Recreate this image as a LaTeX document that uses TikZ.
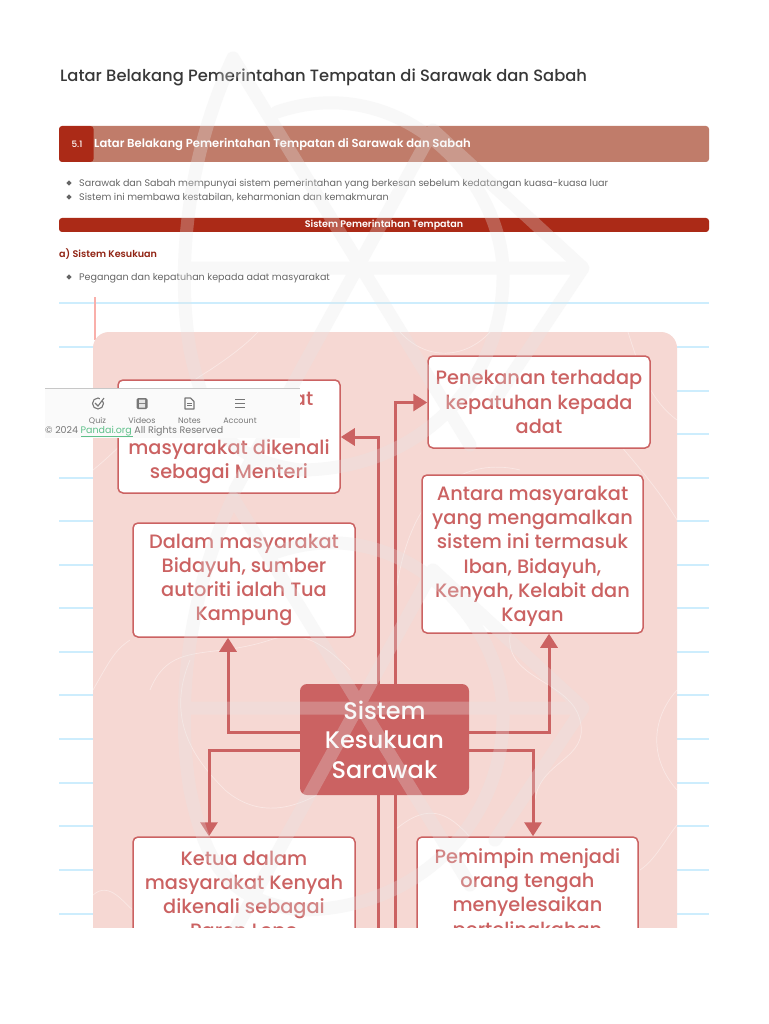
\documentclass[tikz,border=0pt]{standalone}
\usepackage{fontspec}
\usetikzlibrary{arrows.meta,shapes.geometric}
\setmainfont{Poppins}
\newfontfamily\pmed{Poppins Medium}
\newfontfamily\psemi{Poppins SemiBold}
\definecolor{darkred}{HTML}{AB2A17}
\definecolor{barred}{HTML}{C07C6A}
\definecolor{panelpink}{HTML}{F6D8D3}
\definecolor{boxred}{HTML}{CB6262}
\definecolor{ruleblue}{HTML}{CDEDFD}
\definecolor{marginred}{HTML}{F9AFAA}
\definecolor{wmgrey}{HTML}{E6E6E6}
\definecolor{bodygrey}{HTML}{666666}
\definecolor{navgrey}{HTML}{777777}
\definecolor{linkgreen}{HTML}{5FC08A}
\tikzset{
  rule/.style={ruleblue,line width=1.4pt},
  card/.style={draw=boxred,fill=white,line width=1.5pt,rounded corners=5pt,inner sep=0pt,
    align=center,text=boxred,font=\pmed\fontsize{19.35}{24.2}\selectfont},
  cardtext/.style={inner sep=0pt,align=center,text=boxred,font=\pmed\fontsize{19.35}{24.2}\selectfont},
  hub/.style={fill=boxred,rounded corners=7pt,inner sep=0pt,align=center,text=white,
    font=\pmed\fontsize{24}{29.5}\selectfont},
  link/.style={draw=boxred,line width=3pt},
  arrowlink/.style={link,-{Triangle[length=14pt,width=17pt]}},
  bodytext/.style={anchor=west,inner sep=0pt,text=bodygrey,font=\fontsize{9.55}{12}\selectfont},
  dot/.style={diamond,fill=bodygrey,inner sep=1.4pt},
  navlabel/.style={inner sep=0pt,text=navgrey,font=\fontsize{8}{10}\selectfont},
  contour/.style={white,line width=0.7pt,opacity=0.4},
}
\begin{document}
\begin{tikzpicture}[x=1pt,y=-1pt]
\useasboundingbox (0,0) rectangle (768,1024);
\fill[white] (0,0) rectangle (768,1024);

% title
\node[anchor=west,inner sep=0pt,text=black!78,font=\pmed\fontsize{16.35}{20}\selectfont] (title) at (60,77.5) {Latar Belakang Pemerintahan Tempatan di Sarawak dan Sabah};

% section header
\fill[barred,rounded corners=3pt] (88,126) rectangle (709,162);
\fill[darkred,rounded corners=3pt] (59,126) rectangle (93.5,162);
\node[inner sep=0pt,text=white,font=\pmed\fontsize{8.8}{10}\selectfont] (secno) at (77,144) {5.1};
\node[anchor=west,inner sep=0pt,text=white,font=\psemi\fontsize{11.6}{14}\selectfont] (sectitle) at (94,145) {Latar Belakang Pemerintahan Tempatan di Sarawak dan Sabah};

% bullets
\node[dot] (d1) at (69,183) {};
\node[bodytext] (b1) at (79,184) {Sarawak dan Sabah mempunyai sistem pemerintahan yang berkesan sebelum kedatangan kuasa-kuasa luar};
\node[dot] (d2) at (69,197) {};
\node[bodytext] (b2) at (79,198) {Sistem ini membawa kestabilan, keharmonian dan kemakmuran};

\fill[darkred,rounded corners=3pt] (59,218) rectangle (709,232);
\node[inner sep=0pt,text=white,font=\psemi\fontsize{9.55}{12}\selectfont] (subbar) at (384,225.5) {Sistem Pemerintahan Tempatan};
\node[anchor=west,inner sep=0pt,text=darkred!85!black,font=\psemi\fontsize{9.6}{12}\selectfont] (sub) at (59,254) {a) Sistem Kesukuan};
\node[dot] (d3) at (69,277) {};
\node[bodytext] (b3) at (79,278) {Pegangan dan kepatuhan kepada adat masyarakat};

% ruled paper
\foreach \yy in {303,347,391,434,478,521,565,608,652,695,739,783,826,870,914}
  \draw[rule] (59,\yy) -- (709,\yy);
\draw[marginred,line width=1.5pt] (95,297) -- (95,340);

% panel
\fill[panelpink,rounded corners=16pt] (93,332) rectangle (677,960);

% faint contour lines
\draw[contour] (93,470) .. controls (130,440) and (160,400) .. (210,370) .. controls (240,350) and (250,340) .. (258,332);
\draw[contour] (400,332) .. controls (430,365) and (470,355) .. (490,332);
\draw[contour] (628,332) .. controls (640,370) and (650,400) .. (677,420);
\draw[contour] (620,445) .. controls (650,480) and (665,500) .. (677,520);
\draw[contour] (395,600) .. controls (410,470) and (480,460) .. (520,470);
\draw[contour] (150,690) .. controls (170,640) and (210,660) .. (270,640) .. controls (300,630) and (320,640) .. (350,670);
\draw[contour] (190,660) .. controls (165,720) and (195,760) .. (225,790) .. controls (260,820) and (300,810) .. (340,780);
\draw[contour] (510,635) .. controls (505,680) and (570,680) .. (580,720) .. controls (590,760) and (540,760) .. (535,800);
\draw[contour] (677,690) .. controls (650,720) and (650,760) .. (677,790);
\draw[contour] (93,895) .. controls (110,880) and (125,905) .. (133,910);
\draw[contour] (395,830) .. controls (430,800) and (450,815) .. (470,837);
\draw[contour] (640,870) .. controls (655,860) and (665,840) .. (677,825);
\draw[contour] (93,690) .. controls (110,660) and (115,650) .. (130,640);

% cards
\node[card,minimum width=222pt,minimum height=113pt] (ketua) at (229,436.5) {};
\node[card,minimum width=222pt,minimum height=114pt] (bidayuh) at (244,580) {Dalam masyarakat\\Bidayuh, sumber\\autoriti ialah Tua\\Kampung};
\node[card,minimum width=222pt,minimum height=92pt] (tekan) at (539,402) {\raisebox{1pt}{Penekanan terhadap}\\[-1pt]kepatuhan kepada\\adat};
\node[card,minimum width=221pt,minimum height=158pt] (antara) at (532.5,554) {\rule{0pt}{19pt}Antara masyarakat\\yang mengamalkan\\sistem ini termasuk\\Iban, Bidayuh,\\Kenyah, Kelabit dan\\Kayan};
\node[card,minimum width=222pt,minimum height=120pt] (lepo) at (244,897) {Ketua dalam\\masyarakat Kenyah\\dikenali sebagai\\Paren Lepo};
\node[card,minimum width=221pt,minimum height=116pt] (tengah) at (527.5,895) {Pemimpin menjadi\\orang tengah\\menyelesaikan\\pertelingkahan};
\node[cardtext,anchor=east] (ketuaA) at (313.5,399) {at};
\node[cardtext] (ketuaB) at (229,462) {masyarakat dikenali\\sebagai Menteri};

% hub
\node[hub,minimum width=169pt,minimum height=111pt] (hub) at (384.5,739.5) {Sistem\\Kesukuan\\Sarawak};

% connectors
\coordinate (belowL) at (378,928);
\coordinate (belowR) at (395,928);
\draw[arrowlink] (hub.north -| belowL) |- (ketua.east |- 0,437);
\draw[arrowlink] (hub.north -| belowR) |- (tekan.west |- 0,402.5);
\draw[link] (hub.south -| belowL) -- (belowL);
\draw[link] (hub.south -| belowR) -- (belowR);
\draw[arrowlink] (hub.west |- 0,732) -| (bidayuh.south -| 228,0);
\draw[arrowlink] (hub.west |- 0,750) -| (lepo.north -| 209,0);
\draw[arrowlink] (hub.east |- 0,732) -| (antara.south -| 549,0);
\draw[arrowlink] (hub.east |- 0,750) -| (tengah.north -| 533,0);

% watermark, repeated down the page
\foreach \dy in {0,440}{
\begin{scope}[yshift=-\dy pt]
\draw[wmgrey,opacity=0.28,line width=13pt,line join=round,line cap=round]
  (233,58) -- (470,445)
  (433,130) -- (235,490)
  (190,268) -- (578,268)
  (433,130) -- (583,268) -- (495,400)
  (233,58) .. controls (190,150) and (175,260) .. (190,350) .. controls (205,420) and (225,460) .. (300,470)
     .. controls (420,470) and (505,380) .. (503,273) .. controls (503,180) and (400,70) .. (277,112);
\end{scope}}

% cut-off at the foot of the page image
\fill[white] (0,928) rectangle (768,1024);

% navigation overlay
\fill[white!98!black] (45,388) rectangle (300,438);
\draw[black!22,line width=0.8pt] (45,388.5) -- (300,388.5);
% quiz icon
\draw[navgrey,line width=1.1pt] (98,403.5) circle[radius=5.5pt];
\fill[white!98!black] (100,396) rectangle (105,401);
\draw[navgrey,line width=1.1pt] (95,403) -- (98,406) -- (104,398);
% videos icon
\fill[navgrey,rounded corners=1.5pt] (136.5,398) rectangle (147.5,409);
\fill[white!90!black] (139,399.5) rectangle (145,403) (139,404.2) rectangle (145,407.6);
% notes icon
\draw[navgrey,line width=1.1pt,line join=round] (185,398) -- (190.5,398) -- (194,401.5) -- (194,409) -- (185,409) -- cycle;
\draw[navgrey,line width=0.8pt] (187,403) -- (192,403) (187,405.5) -- (192,405.5);
% account icon
\draw[navgrey,line width=1.1pt] (235,399.5) -- (245,399.5) (235,403.5) -- (245,403.5) (235,407.5) -- (245,407.5);
\node[navlabel] (quiz) at (97.5,420.5) {Quiz};
\node[navlabel] (videos) at (142,420.5) {Videos};
\node[navlabel] (notes) at (189.5,420.5) {Notes};
\node[navlabel] (account) at (240,420.5) {Account};
\node[anchor=west,inner sep=0pt,text=navgrey,font=\fontsize{9.5}{11}\selectfont] (copy) at (45,431.5) {© 2024 \textcolor{linkgreen}{Pandai.org} All Rights Reserved};
\draw[linkgreen,line width=0.7pt] (81,436) -- (133,436);
\end{tikzpicture}
\end{document}
